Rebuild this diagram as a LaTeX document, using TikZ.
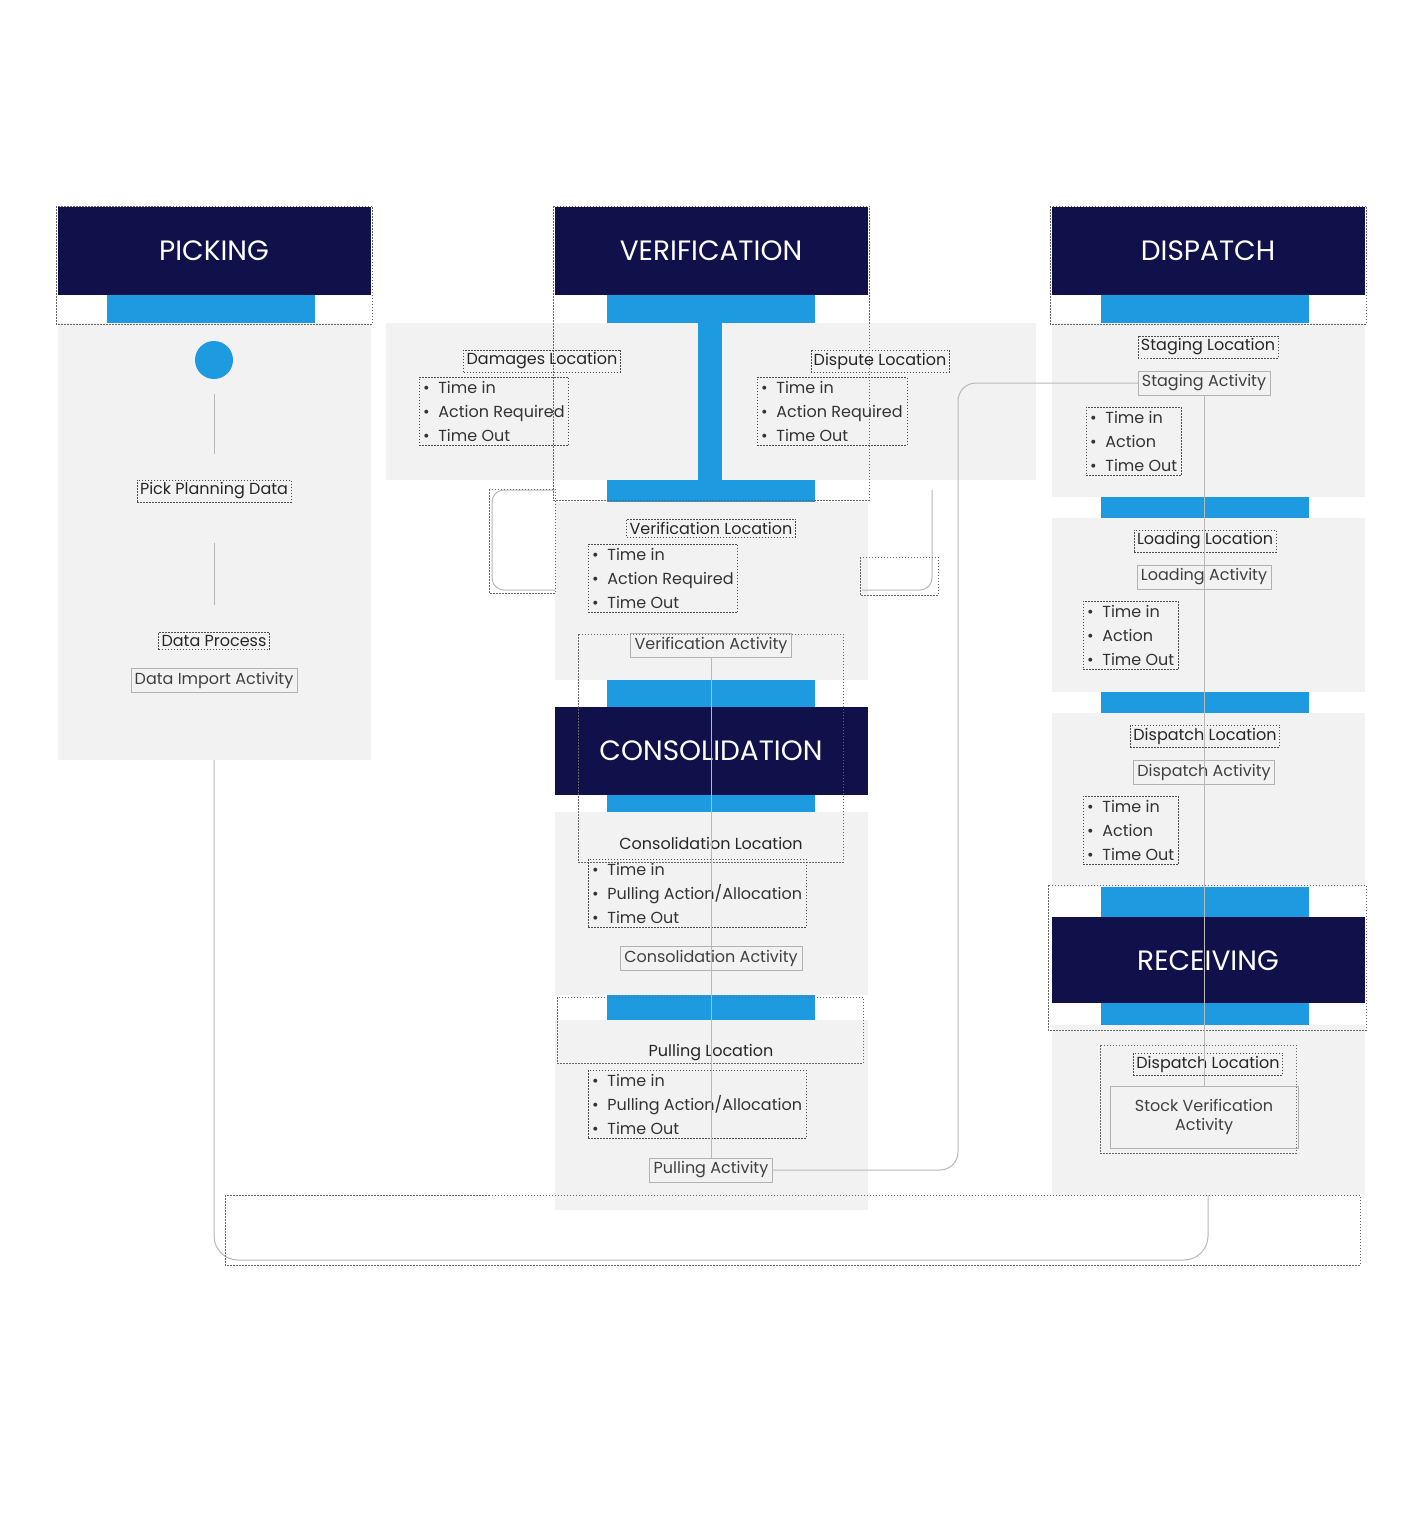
\documentclass[tikz,border=0pt]{standalone}
\usepackage{fontspec}
\setmainfont{Poppins}
\definecolor{navy}{HTML}{10104A}
\definecolor{bblue}{HTML}{1E9BE0}
\definecolor{panel}{HTML}{F2F2F2}
\definecolor{lgray}{HTML}{B8B8B8}
\begin{document}
\begin{tikzpicture}[x=1pt,y=-1pt,
  hdr/.style={fill=navy,draw=none},
  bar/.style={fill=bblue,draw=none},
  pan/.style={fill=panel,draw=none},
  htxt/.style={text=white,font=\fontsize{28}{30}\selectfont},
  lbl/.style={draw=black!70,dashed,dash pattern=on 1.5pt off 1.5pt,inner sep=3pt,font=\fontsize{16}{19}\selectfont,text=black!85},
  act/.style={draw=black!30,inner sep=4pt,font=\fontsize{16}{19}\selectfont,text=black!75},
  lst/.style={draw=black!70,dash pattern=on 1.5pt off 1.5pt,align=left,inner sep=4pt,font=\fontsize{16}{24}\selectfont,text=black!80},
  conn/.style={draw=lgray,line width=1pt,rounded corners=18pt},
  dbox/.style={draw=black!60,dash pattern=on 1.5pt off 1.5pt}]
\fill[white] (0,0) rectangle (1417,1536);
\useasboundingbox (0,0) rectangle (1417,1536);
% ---------- PICKING
\fill[pan] (58,323) rectangle (371,760);
\fill[hdr] (58,207) rectangle (371,295);
\fill[bar] (107,295) rectangle (315,323);
\draw[dbox] (56,206) rectangle (372,324);
\node[htxt] (hpick) at (214,251) {PICKING};
\fill[bblue] (214,360) circle (19);
\node[minimum size=38pt,inner sep=0pt] (dot) at (214,360) {};
\node[lbl] (ppd) at (214,491) {Pick Planning Data};
\node[lbl] (dp) at (214,641) {Data Process};
\node[act] (dia) at (214,680) {Data Import Activity};
\draw[lgray,line width=1pt] (dot.south)++(0,15) coordinate (c1) -- ++(0,60);
\draw[lgray,line width=1pt] (214,543) -- (214,605);
% ---------- VERIFICATION
\fill[pan] (386,323) rectangle (1036,480);
\fill[pan] (555,502) rectangle (868,680);
\fill[pan] (555,812) rectangle (868,995);
\fill[pan] (555,1020) rectangle (868,1210);
\fill[hdr] (555,207) rectangle (868,295);
\fill[bar] (607,295) rectangle (815,323);
\fill[bar] (698,323) rectangle (722,480);
\fill[bar] (607,480) rectangle (815,502);
\fill[bar] (607,680) rectangle (815,707);
\fill[hdr] (555,707) rectangle (868,795);
\fill[bar] (607,795) rectangle (815,812);
\fill[bar] (607,995) rectangle (815,1020);
\node[htxt] (hver) at (711,251) {VERIFICATION};
\node[htxt] (hcon) at (711,751) {CONSOLIDATION};
\draw[dbox] (553,206) rectangle (869,500);
\node[lbl] (dmg) at (542,361) {Damages Location};
\node[lst,anchor=north west] (dmgl) at (419,377) {\textbullet\ \ Time in\\\textbullet\ \ Action Required\\\textbullet\ \ Time Out};
\node[lbl] (dsp) at (880,361) {Dispute Location};
\node[lst,anchor=north west] (dspl) at (757,377) {\textbullet\ \ Time in\\\textbullet\ \ Action Required\\\textbullet\ \ Time Out};
\node[lbl] (vl) at (711,528) {Verification Location};
\node[lst,anchor=north west] (vll) at (588,544) {\textbullet\ \ Time in\\\textbullet\ \ Action Required\\\textbullet\ \ Time Out};
\node[act] (va) at (711,645) {Verification Activity};
\draw[dbox] (578,634) rectangle (843,862);
\node[font=\fontsize{16}{19}\selectfont,text=black!85] (cl) at (711,843) {Consolidation Location};
\node[lst,anchor=north west] (cll) at (588,859) {\textbullet\ \ Time in\\\textbullet\ \ Pulling Action/Allocation\\\textbullet\ \ Time Out};
\node[act] (ca) at (711,958) {Consolidation Activity};
\draw[dbox] (557,997) rectangle (863,1063);
\node[font=\fontsize{16}{19}\selectfont,text=black!85] (pl) at (711,1053) {Pulling Location};
\node[lst,anchor=north west] (pll) at (588,1070) {\textbullet\ \ Time in\\\textbullet\ \ Pulling Action/Allocation\\\textbullet\ \ Time Out};
\node[act] (pa) at (711,1170) {Pulling Activity};
% brackets
\draw[conn,rounded corners=12pt] (555,490) -- (492,490) -- (492,590) -- (555,590);
\draw[dbox] (489,489) rectangle (555,593);
\draw[conn,rounded corners=12pt] (862,590) -- (932,590) -- (932,490);
\draw[dbox] (860,557) rectangle (938,595);
\draw[lgray,line width=0.8pt] (va.south) -- (pa.north);
% ---------- DISPATCH
\fill[pan] (1052,323) rectangle (1365,497);
\fill[pan] (1052,518) rectangle (1365,692);
\fill[pan] (1052,713) rectangle (1365,887);
\fill[pan] (1052,1025) rectangle (1365,1195);
\fill[hdr] (1052,207) rectangle (1365,295);
\fill[bar] (1101,295) rectangle (1309,323);
\fill[bar] (1101,497) rectangle (1309,518);
\fill[bar] (1101,692) rectangle (1309,713);
\fill[bar] (1101,887) rectangle (1309,917);
\fill[hdr] (1052,917) rectangle (1365,1003);
\fill[bar] (1101,1003) rectangle (1309,1025);
\draw[dbox] (1050,206) rectangle (1366,324);
\draw[dbox] (1048,885) rectangle (1366,1030);
\node[htxt] (hdis) at (1208,251) {DISPATCH};
\node[htxt] (hrec) at (1208,961) {RECEIVING};
\node[lbl] (sl) at (1208,347) {Staging Location};
\node[act] (sa) at (1204,383) {Staging Activity};
\node[lst,anchor=north west] (sll) at (1086,407) {\textbullet\ \ Time in\\\textbullet\ \ Action\\\textbullet\ \ Time Out};
\node[lbl] (ll) at (1205,541) {Loading Location};
\node[act] (la) at (1204,577) {Loading Activity};
\node[lst,anchor=north west] (lll) at (1083,601) {\textbullet\ \ Time in\\\textbullet\ \ Action\\\textbullet\ \ Time Out};
\node[lbl] (dl) at (1205,736) {Dispatch Location};
\node[act] (da) at (1204,772) {Dispatch Activity};
\node[lst,anchor=north west] (dll) at (1083,796) {\textbullet\ \ Time in\\\textbullet\ \ Action\\\textbullet\ \ Time Out};
\node[lbl] (rl) at (1208,1064) {Dispatch Location};
\node[act,align=center,minimum width=188pt,minimum height=62pt] (sva) at (1204,1117) {Stock Verification\\Activity};
\draw[dbox] (1100,1045) rectangle (1296,1153);
\draw[lgray,line width=0.8pt] (sa.south) -- (sva.north);
% ---------- connectors
\draw[conn] (pa.east) -- (958,1170) -- (958,383) -- (sa.west);
\coordinate (pbot) at (214,760);
\coordinate (rbot) at (1208,1195);
\draw[conn,rounded corners=24pt] (pbot) -- (214,1260) -- (1208,1260) -- (rbot);
\draw[dbox] (225,1195) rectangle (1360,1265);
\end{tikzpicture}
\end{document}
